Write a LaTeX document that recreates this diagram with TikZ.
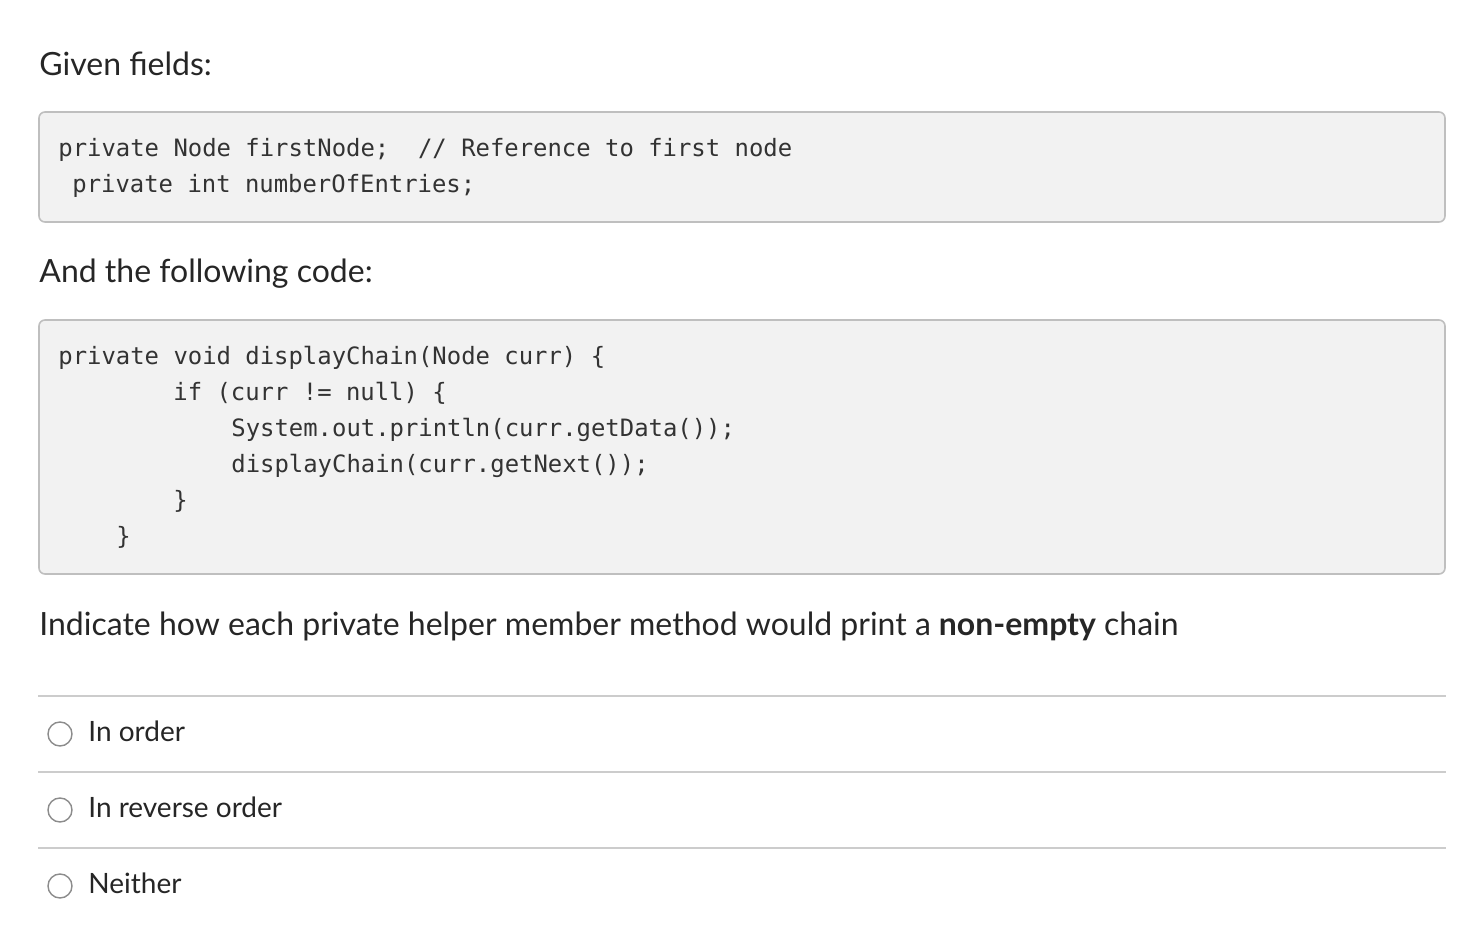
\documentclass[tikz,border=0pt]{standalone}
\usepackage{fontspec}
\setmainfont{Lato}
\newfontfamily\codefont{DejaVu Sans Mono}
\begin{document}
\begin{tikzpicture}[x=0.5pt,y=-0.5pt,
  txt/.style={anchor=base west,inner sep=0pt,font=\fontsize{16}{19}\selectfont,text=black!85},
  opt/.style={anchor=base west,inner sep=0pt,font=\fontsize{14}{17}\selectfont,text=black!85},
  code/.style={anchor=base west,inner sep=0pt,font=\codefont\fontsize{11.95}{14}\selectfont,text=black!80},
  codebox/.style={draw=black!25,fill=black!5,rounded corners=3pt,line width=0.8pt},
  sep/.style={draw=black!20,line width=0.7pt},
  radio/.style={circle,draw=black!45,fill=white,minimum size=12pt,inner sep=0pt,line width=0.7pt}]
\useasboundingbox (0,0) rectangle (1478,946);
\node[txt] (t1) at (39,76) {Given fields:};
\draw[codebox] (39,112) rectangle (1445,222);
\node[code] (c1) at (58,157) {private Node firstNode;\ \ // Reference to first node};
\node[code] (c2) at (72,193) {private int numberOfEntries;};
\node[txt] (t2) at (39,283) {And the following code:};
\draw[codebox] (39,320) rectangle (1445,574);
\node[code] (d1) at (58,365) {private void displayChain(Node curr) \{};
\node[code] (d2) at (173,401) {if (curr != null) \{};
\node[code] (d3) at (231,437) {System.out.println(curr.getData());};
\node[code] (d4) at (231,473) {displayChain(curr.getNext());};
\node[code] (d5) at (173,509) {\}};
\node[code] (d6) at (116,545) {\}};
\node[txt] (t3) at (39,635) {Indicate how each private helper member method would print a \textbf{non-empty} chain};
\draw[sep] (38,696) -- (1446,696);
\draw[sep] (38,772) -- (1446,772);
\draw[sep] (38,848) -- (1446,848);
\node[radio] (r1) at (60,734) {};
\node[radio] (r2) at (60,810) {};
\node[radio] (r3) at (60,886) {};
\node[opt] (o1) at (88,741) {In order};
\node[opt] (o2) at (88,817) {In reverse order};
\node[opt] (o3) at (88,893) {Neither};
\end{tikzpicture}
\end{document}
